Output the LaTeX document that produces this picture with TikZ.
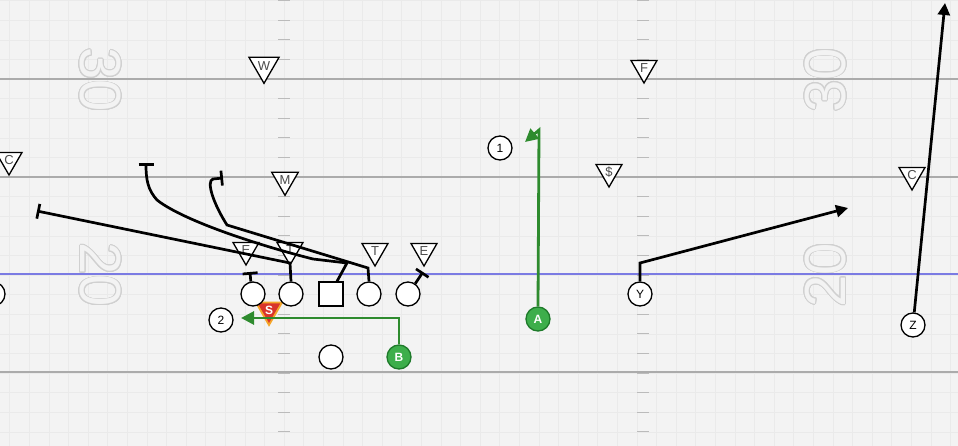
\documentclass[tikz,border=0pt]{standalone}
\usepackage{fontspec}
\setmainfont{Liberation Sans}
\usepackage{contour}
\contourlength{0.9pt}
\usetikzlibrary{shapes.geometric, arrows.meta, positioning}

\definecolor{turf}{HTML}{F3F3F3}
\definecolor{gridln}{HTML}{EAEAEA}
\definecolor{yardln}{HTML}{ABABAB}
\definecolor{hashln}{HTML}{BBBBBB}
\definecolor{losblue}{HTML}{7B7BE3}
\definecolor{routegreen}{HTML}{2E8B2E}
\definecolor{keyfill}{HTML}{3DAE4B}
\definecolor{keydraw}{HTML}{1E7A2A}
\definecolor{samred}{HTML}{D9342B}
\definecolor{samedge}{HTML}{F4A62A}
\definecolor{numgray}{HTML}{D0D0D0}

\begin{document}
\begin{tikzpicture}[x=1pt, y=-1pt,
    offman/.style={circle, draw=black, line width=1.3pt, fill=white, minimum size=24pt, inner sep=0pt, font=\fontsize{12}{12}\selectfont},
    ctrman/.style={rectangle, draw=black, line width=1.3pt, fill=white, minimum size=24pt, inner sep=0pt},
    keyman/.style={offman, draw=keydraw, fill=keyfill, text=white, font=\fontsize{12}{12}\selectfont\bfseries},
    defman/.style={regular polygon, regular polygon sides=3, shape border rotate=180, draw=black, line width=1.3pt, fill=white, minimum size=30pt, inner sep=0pt, text=black!70, font=\fontsize{13}{13}\selectfont},
    fieldnum/.style={inner sep=0pt, text=turf, font=\fontsize{58}{58}\selectfont},
    yardline/.style={yardln, line width=1.8pt},
    gridline/.style={gridln, line width=0.5pt},
    hashmark/.style={hashln, line width=1.2pt},
    runline/.style={line width=2.7pt, black},
    blockline/.style={runline, -{Bar[width=15pt]}},
    passline/.style={runline, -{Triangle[length=12pt, width=12pt]}},
    hotline/.style={line width=2.8pt, routegreen, -{Triangle[length=13pt, width=13pt]}}]

    \useasboundingbox (0,0) rectangle (958,446);
    \clip (0,0) rectangle (958,446);
    \fill[turf] (0,0) rectangle (958,446);

    %% field
    \foreach \k in {-5,...,19}
        \draw[gridline] (0,{79+19.6*\k}) -- (958,{79+19.6*\k});
    \foreach \k in {-15,...,35}
        \draw[gridline] ({284+19.6*\k},0) -- ({284+19.6*\k},446);
    \foreach \k in {-5,...,19} {
        \draw[hashmark] (278,{79+19.6*\k}) -- (290,{79+19.6*\k});
        \draw[hashmark] (637,{79+19.6*\k}) -- (649,{79+19.6*\k});
    }
    \draw[yardline] (0,79) -- (958,79);
    \draw[yardline] (0,177) -- (958,177);
    \draw[yardline] (0,372) -- (958,372);
    \draw[losblue, line width=2.6pt] (0,274) -- (958,274);

    \node (n30l) [fieldnum, rotate=-90] at (100,80) {\contour{numgray}{30}};
    \node (n20l) [fieldnum, rotate=-90] at (100,275) {\contour{numgray}{20}};
    \node (n30r) [fieldnum, rotate=90] at (826,80) {\contour{numgray}{30}};
    \node (n20r) [fieldnum, rotate=90] at (826,275) {\contour{numgray}{20}};

    %% defense
    \node (wil) [defman] at (264,66) {W};
    \node (fs) [defman] at (644,68) {F};
    \node (lcb) [defman] at (9,160) {C};
    \node (mik) [defman] at (285,180) {M};
    \node (mny) [defman] at (609,172) {\$};
    \node (rcb) [defman] at (912,175) {C};
    \node (lde) [defman] at (246,250) {E};
    \node (ldt) [defman] at (290,250) {T};
    \node (rdt) [defman] at (375,251) {T};
    \node (rde) [defman] at (424,251) {E};
    \node (sam) [defman, fill=samred, draw=samedge, line width=1.8pt, text=white, font=\fontsize{12}{12}\selectfont\bfseries] at (269,310) {S};

    %% offense
    \node (xr) [offman] at (-7,294) {};
    \node (ltk) [offman] at (253,294) {};
    \node (lgd) [offman] at (291,294) {};
    \node (cen) [ctrman] at (331,294) {};
    \node (rgd) [offman] at (369,294) {};
    \node (rtk) [offman] at (408,294) {};
    \node (two) [offman] at (221,320) {2};
    \node (one) [offman] at (500,148) {1};
    \node (qb) [offman] at (331,357) {};
    \node (bk) [keyman] at (399,357) {B};
    \node (ak) [keyman] at (538,319) {A};
    \node (yy) [offman] at (640,294) {Y};
    \node (zz) [offman] at (913,325) {Z};

    %% route ends
    \coordinate (ltkEnd) at (250,272);
    \coordinate (lgdBend) at (290,263);
    \coordinate (lgdEnd) at (37,211);
    \coordinate (cenBend) at (347,263);
    \coordinate (cenMid) at (313,259);
    \coordinate (cenLow) at (157,200);
    \coordinate (cenEnd) at (146,163);
    \coordinate (rgdBend) at (368,268);
    \coordinate (rgdHook) at (227,225);
    \coordinate (rgdTurn) at (213,179);
    \coordinate (rgdEnd) at (223,178);
    \coordinate (rtkEnd) at (423,272);
    \coordinate (aTop) at (539,130);
    \coordinate (aEnd) at (525,142);
    \coordinate (bEnd) at (241,318);
    \coordinate (yBend) at (640,263);
    \coordinate (yEnd) at (848,208);
    \coordinate (zEnd) at (945,3);

    %% protection
    \draw[blockline] (ltk.100) -- (ltkEnd);
    \draw[blockline] (lgd.north) -- (lgdBend) -- (lgdEnd);
    \draw[blockline] ([xshift=6pt]cen.north) -- (cenBend) -- (cenMid)
        .. controls (265,247) and (185,222) .. (cenLow)
        .. controls (148,190) and (146,180) .. (cenEnd);
    \draw[blockline] (rgd.north) -- (rgdBend) -- (rgdHook)
        .. controls (213,203) and (206,181) .. (rgdTurn) -- (rgdEnd);
    \draw[blockline] (rtk.55) -- (rtkEnd);

    %% routes
    \draw[passline] (yy.north) -- (yBend) -- (yEnd);
    \draw[passline] (zz) -- (zEnd);
    \draw[hotline] (ak.north) -- (aTop) -- (aEnd);
    \draw[hotline] (bk.north) |- (bEnd);

\end{tikzpicture}
\end{document}
